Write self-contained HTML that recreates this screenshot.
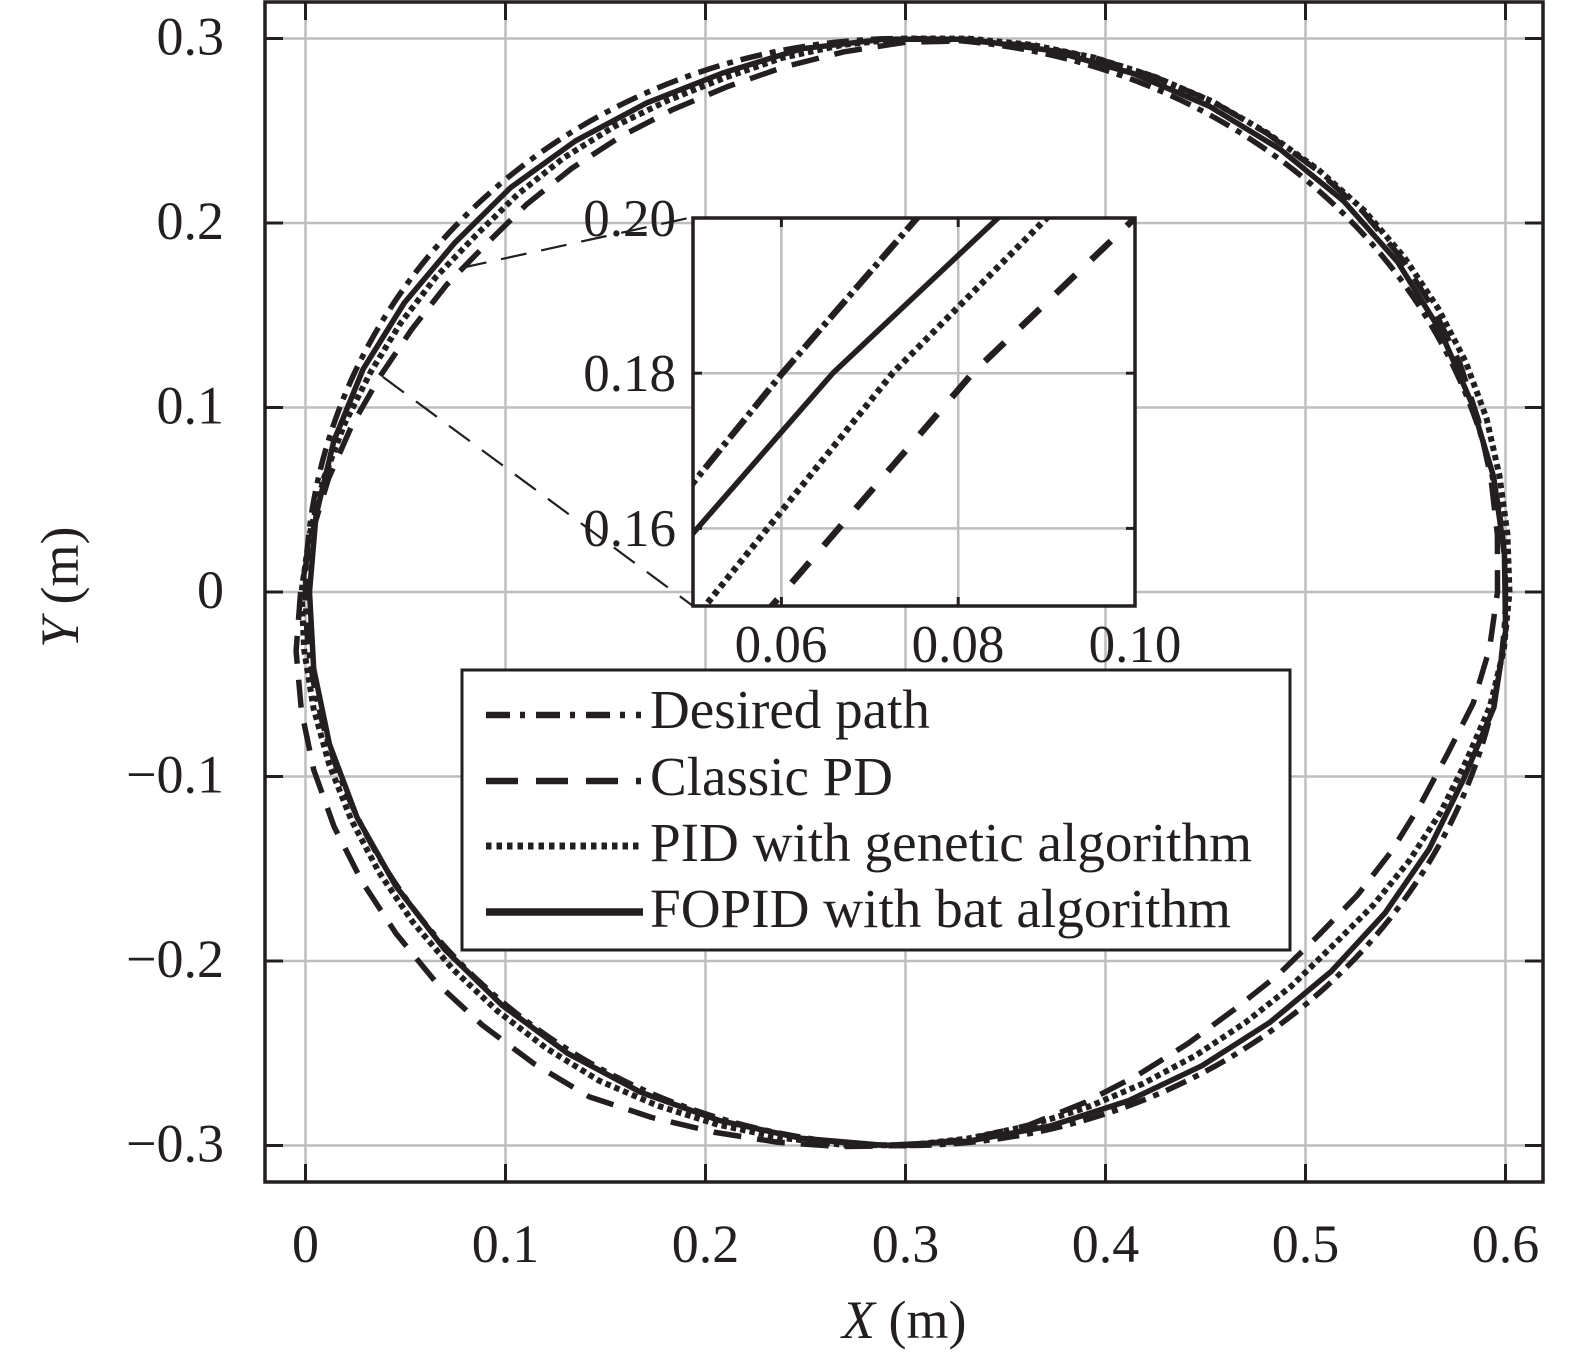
<!DOCTYPE html>
<html>
<head>
<meta charset="utf-8">
<style>
  html, body { margin: 0; padding: 0; background: #ffffff; }
  svg { display: block; }
  text { font-family: "Liberation Serif", "Times New Roman", serif; fill: #231f20; }
</style>
</head>
<body>
<svg id="chart" width="1575" height="1358" viewBox="0 0 1575 1358" xmlns="http://www.w3.org/2000/svg">
  <defs>
    <clipPath id="mainClip"><rect x="265" y="2" width="1278" height="1180"/></clipPath>
    <clipPath id="insetClip"><rect x="693" y="218" width="442" height="388"/></clipPath>
  </defs>
  <rect x="0" y="0" width="1575" height="1358" fill="#ffffff"/>

  <!-- main grid -->
  <g stroke="#bebebe" stroke-width="2.5">
    <line x1="305.5" y1="2" x2="305.5" y2="1182"/>
    <line x1="505.5" y1="2" x2="505.5" y2="1182"/>
    <line x1="705.5" y1="2" x2="705.5" y2="1182"/>
    <line x1="905.5" y1="2" x2="905.5" y2="1182"/>
    <line x1="1105.5" y1="2" x2="1105.5" y2="1182"/>
    <line x1="1305.5" y1="2" x2="1305.5" y2="1182"/>
    <line x1="1505.5" y1="2" x2="1505.5" y2="1182"/>
    <line x1="265" y1="38.5" x2="1543" y2="38.5"/>
    <line x1="265" y1="223" x2="1543" y2="223"/>
    <line x1="265" y1="407.5" x2="1543" y2="407.5"/>
    <line x1="265" y1="592" x2="1543" y2="592"/>
    <line x1="265" y1="776.5" x2="1543" y2="776.5"/>
    <line x1="265" y1="961" x2="1543" y2="961"/>
    <line x1="265" y1="1145.5" x2="1543" y2="1145.5"/>
  </g>

  <!-- main series -->
  <g clip-path="url(#mainClip)" fill="none" stroke="#231f20" stroke-linejoin="round">
    <ellipse id="sDesired" cx="905.5" cy="592" rx="600" ry="553.5" stroke-width="5.5" stroke-dasharray="22 8 6 8"/>
    <path id="sPD" d="" stroke-width="5.5" stroke-dasharray="28 16"/>
    <path id="sGA" d="" stroke-width="6" stroke-dasharray="5.5 4"/>
    <path id="sFO" d="" stroke-width="5.5"/>
  </g>

  <!-- connector lines -->
  <g stroke="#231f20" stroke-width="2.2" fill="none" stroke-dasharray="26 15">
    <line x1="461" y1="268" x2="693" y2="217"/>
    <line x1="383" y1="377" x2="693" y2="606"/>
  </g>

  <!-- inset -->
  <rect x="693" y="218" width="442" height="388" fill="#ffffff"/>
  <g stroke="#bebebe" stroke-width="2.5">
    <line x1="781.4" y1="218" x2="781.4" y2="606"/>
    <line x1="958.2" y1="218" x2="958.2" y2="606"/>
    <line x1="693" y1="373.2" x2="1135" y2="373.2"/>
    <line x1="693" y1="528.4" x2="1135" y2="528.4"/>
  </g>
  <g clip-path="url(#insetClip)" fill="none" stroke="#231f20" stroke-linejoin="round">
    <polyline points="680,498 693,483 782.7,372.7 917,218 930,203" stroke-width="6.5" stroke-dasharray="24 5 5 5"/>
    <polyline points="760,620 771.7,606 973,372.7 1135,218 1146,207" stroke-width="6.5" stroke-dasharray="27 22"/>
    <polyline points="695,618 705,606 893,372.7 1046.7,218 1057,207" stroke-width="6.5" stroke-dasharray="5.5 4.5"/>
    <polyline points="680,548 693,533.3 833,373 998,218 1010,207" stroke-width="5.5"/>
  </g>
  <rect x="693" y="218" width="442" height="388" fill="none" stroke="#231f20" stroke-width="3.5"/>
  <g stroke="#231f20" stroke-width="3">
    <line x1="781.4" y1="218" x2="781.4" y2="227"/>
    <line x1="958.2" y1="218" x2="958.2" y2="227"/>
    <line x1="781.4" y1="606" x2="781.4" y2="597"/>
    <line x1="958.2" y1="606" x2="958.2" y2="597"/>
    <line x1="693" y1="373.2" x2="702" y2="373.2"/>
    <line x1="693" y1="528.4" x2="702" y2="528.4"/>
    <line x1="1135" y1="373.2" x2="1126" y2="373.2"/>
    <line x1="1135" y1="528.4" x2="1126" y2="528.4"/>
  </g>
  <g font-size="53" text-anchor="end">
    <text x="676" y="236">0.20</text>
    <text x="676" y="391">0.18</text>
    <text x="676" y="546">0.16</text>
  </g>
  <g font-size="53" text-anchor="middle">
    <text x="781" y="662">0.06</text>
    <text x="958" y="662">0.08</text>
    <text x="1135" y="662">0.10</text>
  </g>

  <!-- legend -->
  <rect x="462" y="670" width="828" height="280" fill="#ffffff" stroke="#231f20" stroke-width="3"/>
  <g stroke="#231f20" fill="none">
    <line x1="486" y1="715" x2="641" y2="715" stroke-width="6.5" stroke-dasharray="24 10 5 11"/>
    <line x1="486" y1="781" x2="641" y2="781" stroke-width="6.5" stroke-dasharray="32 18"/>
    <line x1="486" y1="846" x2="643" y2="846" stroke-width="7" stroke-dasharray="5.5 5"/>
    <line x1="486" y1="912" x2="643" y2="912" stroke-width="7.5"/>
  </g>
  <g font-size="55">
    <text x="650" y="728" textLength="280" lengthAdjust="spacingAndGlyphs">Desired path</text>
    <text x="650" y="795" textLength="243" lengthAdjust="spacingAndGlyphs">Classic PD</text>
    <text x="650" y="861" textLength="602" lengthAdjust="spacingAndGlyphs">PID with genetic algorithm</text>
    <text x="650" y="927" textLength="581" lengthAdjust="spacingAndGlyphs">FOPID with bat algorithm</text>
  </g>

  <!-- main frame -->
  <rect x="265" y="2" width="1278" height="1180" fill="none" stroke="#231f20" stroke-width="3.5"/>
  <g stroke="#231f20" stroke-width="3">
    <line x1="305.5" y1="2" x2="305.5" y2="20"/><line x1="305.5" y1="1182" x2="305.5" y2="1164"/>
    <line x1="505.5" y1="2" x2="505.5" y2="20"/><line x1="505.5" y1="1182" x2="505.5" y2="1164"/>
    <line x1="705.5" y1="2" x2="705.5" y2="20"/><line x1="705.5" y1="1182" x2="705.5" y2="1164"/>
    <line x1="905.5" y1="2" x2="905.5" y2="20"/><line x1="905.5" y1="1182" x2="905.5" y2="1164"/>
    <line x1="1105.5" y1="2" x2="1105.5" y2="20"/><line x1="1105.5" y1="1182" x2="1105.5" y2="1164"/>
    <line x1="1305.5" y1="2" x2="1305.5" y2="20"/><line x1="1305.5" y1="1182" x2="1305.5" y2="1164"/>
    <line x1="1505.5" y1="2" x2="1505.5" y2="20"/><line x1="1505.5" y1="1182" x2="1505.5" y2="1164"/>
    <line x1="265" y1="38.5" x2="283" y2="38.5"/><line x1="1543" y1="38.5" x2="1525" y2="38.5"/>
    <line x1="265" y1="223" x2="283" y2="223"/><line x1="1543" y1="223" x2="1525" y2="223"/>
    <line x1="265" y1="407.5" x2="283" y2="407.5"/><line x1="1543" y1="407.5" x2="1525" y2="407.5"/>
    <line x1="265" y1="592" x2="283" y2="592"/><line x1="1543" y1="592" x2="1525" y2="592"/>
    <line x1="265" y1="776.5" x2="283" y2="776.5"/><line x1="1543" y1="776.5" x2="1525" y2="776.5"/>
    <line x1="265" y1="961" x2="283" y2="961"/><line x1="1543" y1="961" x2="1525" y2="961"/>
    <line x1="265" y1="1145.5" x2="283" y2="1145.5"/><line x1="1543" y1="1145.5" x2="1525" y2="1145.5"/>
  </g>

  <!-- tick labels -->
  <g font-size="54" text-anchor="end">
    <text x="224" y="54.5">0.3</text>
    <text x="224" y="239">0.2</text>
    <text x="224" y="423.5">0.1</text>
    <text x="224" y="608">0</text>
    <text x="224" y="792.5">−0.1</text>
    <text x="224" y="977">−0.2</text>
    <text x="224" y="1161.5">−0.3</text>
  </g>
  <g font-size="54" text-anchor="middle">
    <text x="305.5" y="1262">0</text>
    <text x="505.5" y="1262">0.1</text>
    <text x="705.5" y="1262">0.2</text>
    <text x="905.5" y="1262">0.3</text>
    <text x="1105.5" y="1262">0.4</text>
    <text x="1305.5" y="1262">0.5</text>
    <text x="1505.5" y="1262">0.6</text>
  </g>

  <!-- axis labels -->
  <text x="842" y="1338" font-size="54"><tspan font-style="italic">X</tspan> (m)</text>
  <text transform="translate(78,648) rotate(-90)" font-size="54"><tspan font-style="italic">Y</tspan> (m)</text>
</svg>

<script>
(function(){
  var X = function(x){ return 305.5 + x*2000; };
  var Y = function(y){ return 592 - y*1845; };
  function interp(keys, th){
    for (var i=0;i<keys.length-1;i++){
      var a=keys[i], b=keys[i+1];
      if (th>=a[0] && th<=b[0]){
        var t=(b[0]===a[0])?0:(th-a[0])/(b[0]-a[0]);
        return a[1]+(b[1]-a[1])*t;
      }
    }
    return 0;
  }
  function build(keys, step, start){
    var d='';
    var n=Math.round(360/step);
    for (var k=0;k<=n;k++){
      var t=(start+k*step)%360;
      var r=0.3+interp(keys,t);
      var a=t*Math.PI/180;
      var px=X(0.3+r*Math.cos(a)), py=Y(r*Math.sin(a));
      d+=(k===0?'M':'L')+px.toFixed(1)+','+py.toFixed(1);
    }
    return d+'Z';
  }
  var PD=[[0,-0.004],[15,0.000],[25,0.004],[40,0.008],[60,0.007],[75,0.004],[90,-0.002],[100,-0.008],[110,-0.013],[125,-0.016],[138,-0.018],[150,-0.015],[157,-0.012],[168,-0.005],[178,0.001],[185,0.006],[200,0.012],[222,0.016],[240,0.016],[250,0.009],[262,0.003],[270,0],[280,-0.003],[293,-0.013],[304,-0.020],[318,-0.022],[340,-0.017],[350,-0.008],[360,-0.004]];
  var GA=[[0,0.002],[10,0.003],[20,0.006],[40,0.009],[60,0.007],[75,0.004],[90,0],[100,-0.003],[110,-0.008],[125,-0.009],[138,-0.011],[157,-0.007],[170,-0.002],[180,0.002],[200,0.003],[222,0.005],[240,0.006],[250,0.004],[270,0],[293,-0.008],[304,-0.011],[318,-0.013],[342,-0.005],[350,0],[360,0.002]];
  var FO=[[0,0],[20,0.001],[40,0.005],[60,0.004],[80,0.002],[90,0],[100,-0.001],[110,-0.005],[132,-0.005],[138,-0.006],[157,-0.003],[180,-0.002],[200,0],[240,0.002],[270,0],[304,-0.004],[318,-0.004],[342,-0.003],[350,0.002],[360,0]];
  document.getElementById('sPD').setAttribute('d', build(PD, 6, 180));
  document.getElementById('sGA').setAttribute('d', build(GA, 6, 180));
  document.getElementById('sFO').setAttribute('d', build(FO, 8, 180));
})();
</script>
</body>
</html>
